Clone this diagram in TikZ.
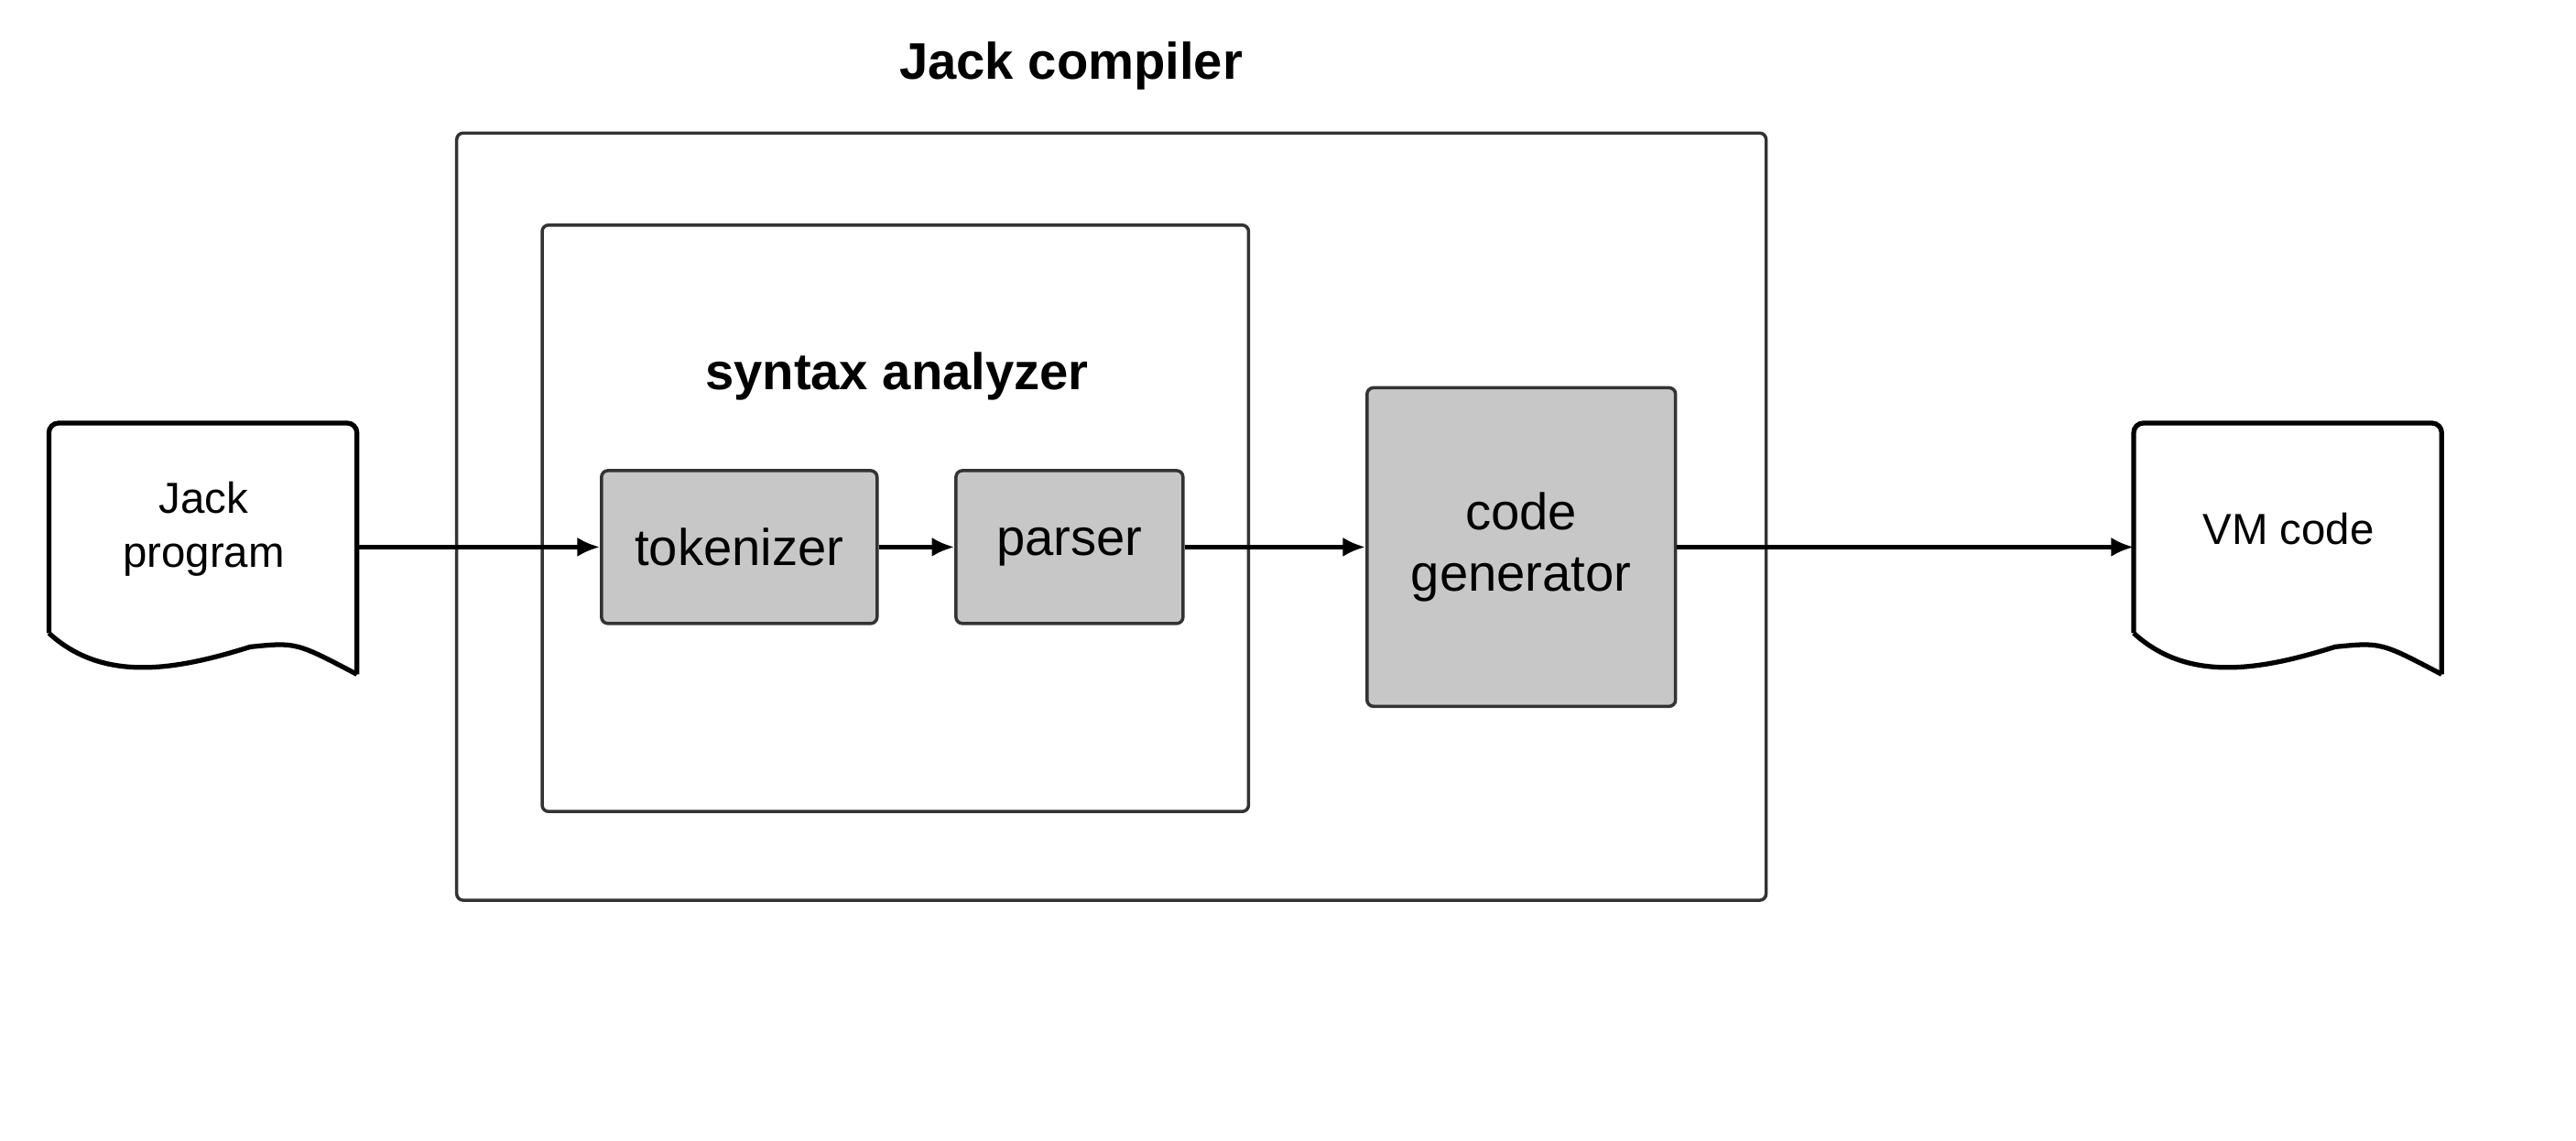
\documentclass[tikz,border=0pt]{standalone}
\usepackage{fontspec}
\setmainfont{Liberation Sans}
\usetikzlibrary{arrows.meta,positioning}
\tikzset{
    stage/.style={draw=black!80, line width=1pt, rounded corners=2pt, fill=black!22, align=center, font=\fontsize{16}{19}\selectfont},
    frame/.style={draw=black!80, line width=1pt, rounded corners=2pt},
    doc/.style={minimum width=3.35cm, minimum height=2.73cm, inner sep=0pt},
    doctext/.style={align=center, font=\fontsize{13.5}{17}\selectfont},
    flow/.style={line width=1.3pt, -{Latex[length=7pt,width=6pt]}},
}
\newcommand{\docshape}[1]{%
    \draw[line width=1.5pt, rounded corners=3pt] ([shift={(0cm,0.45cm)}]#1.south west) -- (#1.north west) -- (#1.north east) -- (#1.south east);
    \draw[line width=1.5pt] ([shift={(0cm,0.45cm)}]#1.south west)
        .. controls ([shift={(0.6cm,-0.1cm)}]#1.south west) and ([shift={(1.4cm,0.05cm)}]#1.south west) .. ([shift={(2.2cm,0.3cm)}]#1.south west)
        .. controls ([shift={(2.7cm,0.35cm)}]#1.south west) .. (#1.south east);
}
\begin{document}
\begin{tikzpicture}[x=0.01794cm, y=-0.01794cm]
    \useasboundingbox (0,0) rectangle (1568,694);
    % containers
    \draw[frame] (278,81) rectangle (1075,548);
    \draw[frame] (330,137) rectangle (760,494);
    \node[font=\bfseries\fontsize{16}{19}\selectfont] (title) at (652,40) {Jack compiler};
    \node[font=\bfseries\fontsize{16}{19}\selectfont] (syn) at (546,229) {syntax analyzer};
    % stages
    \node[stage, minimum width=3.01cm, minimum height=1.67cm] (tok) at (450,333) {tokenizer};
    \node[stage, minimum width=2.48cm, minimum height=1.67cm] (par) at (651,333) {parser};
    \node[stage, minimum width=3.37cm, minimum height=3.48cm] (gen) at (926,333) {code\\generator};
    % documents
    \node[doc] (src) at (123.5,334) {};
    \node[doctext] at (124,322) {Jack\\program};
    \docshape{src}
    \node[doc] (vm) at (1392.5,334) {};
    \node[doctext] at (1393,322) {VM code};
    \docshape{vm}
    % connectors
    \draw[flow] (src.east |- 0,333) -- (tok.west);
    \draw[flow] (tok) -- (par);
    \draw[flow] (par) -- (gen);
    \draw[flow] (gen) -- (vm.west |- 0,333);
\end{tikzpicture}
\end{document}
